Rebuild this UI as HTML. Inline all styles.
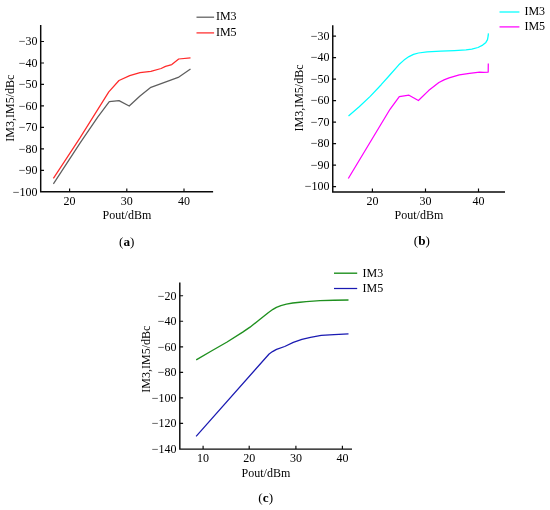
<!DOCTYPE html>
<html><head><meta charset="utf-8"><title>Figure</title>
<style>
html,body{margin:0;padding:0;background:#fff;}
svg{display:block;}
text{font-family:"Liberation Serif",serif;font-size:12px;fill:#000;}
</style></head>
<body>
<svg width="550" height="510" viewBox="0 0 550 510">
<rect width="550" height="510" fill="#fff"/>
<g>
<path d="M40.7 25.0V191.75H213.1" fill="none" stroke="#0a0a0a" stroke-width="1.45" stroke-linejoin="miter"/>
<text x="37.5" y="195.6" text-anchor="end">−100</text>
<text x="37.5" y="174.1" text-anchor="end">−90</text>
<text x="37.5" y="152.7" text-anchor="end">−80</text>
<text x="37.5" y="131.2" text-anchor="end">−70</text>
<text x="37.5" y="109.7" text-anchor="end">−60</text>
<text x="37.5" y="88.2" text-anchor="end">−50</text>
<text x="37.5" y="66.8" text-anchor="end">−40</text>
<text x="37.5" y="45.3" text-anchor="end">−30</text>
<text x="69.6" y="204.9" text-anchor="middle">20</text>
<text x="126.8" y="204.9" text-anchor="middle">30</text>
<text x="184.0" y="204.9" text-anchor="middle">40</text>
<path d="M40.7 170.3h3.3M40.7 148.8h3.3M40.7 127.4h3.3M40.7 105.9h3.3M40.7 84.4h3.3M40.7 63.0h3.3M40.7 41.5h3.3M69.6 191.75v-3.3M126.8 191.75v-3.3M184.0 191.75v-3.3" fill="none" stroke="#0a0a0a" stroke-width="1.15"/>
<polyline points="53.4,183.8 80.0,143.2 97.9,116.9 109.3,101.6 119.0,100.6 129.2,106.0 140.0,96.0 150.9,87.3 178.2,77.4 190.5,69.0" fill="none" stroke="#5e5e5e" stroke-width="1.25" stroke-linejoin="round"/>
<polyline points="53.4,178.3 80.0,137.9 108.8,91.9 119.0,80.5 129.7,75.6 140.0,72.6 150.9,71.3 161.1,68.5 165.5,66.4 171.8,64.6 178.7,59.0 190.5,57.8" fill="none" stroke="#ff2a2a" stroke-width="1.25" stroke-linejoin="round"/>
<text x="126.9" y="218.9" text-anchor="middle">Pout/dBm</text>
<text transform="translate(13.8 108.2) rotate(-90)" text-anchor="middle">IM3,IM5/dBc</text>
<text x="126.7" y="245.9" text-anchor="middle" style="font-size:13.2px">(<tspan font-weight="bold">a</tspan>)</text>
<path d="M196.5 17.2H214.1" stroke="#5e5e5e" stroke-width="1.25"/>
<path d="M196.5 32.9H214.1" stroke="#ff2a2a" stroke-width="1.25"/>
<text x="215.9" y="20.1">IM3</text>
<text x="215.9" y="35.5">IM5</text>
</g>
<g>
<path d="M332.75 25.2V191.9H505" fill="none" stroke="#0a0a0a" stroke-width="1.45" stroke-linejoin="miter"/>
<text x="329.6" y="190.4" text-anchor="end">−100</text>
<text x="329.6" y="168.9" text-anchor="end">−90</text>
<text x="329.6" y="147.4" text-anchor="end">−80</text>
<text x="329.6" y="125.9" text-anchor="end">−70</text>
<text x="329.6" y="104.4" text-anchor="end">−60</text>
<text x="329.6" y="82.9" text-anchor="end">−50</text>
<text x="329.6" y="61.4" text-anchor="end">−40</text>
<text x="329.6" y="39.9" text-anchor="end">−30</text>
<text x="372.4" y="204.7" text-anchor="middle">20</text>
<text x="425.5" y="204.7" text-anchor="middle">30</text>
<text x="478.5" y="204.7" text-anchor="middle">40</text>
<path d="M332.75 186.6h3.3M332.75 165.1h3.3M332.75 143.6h3.3M332.75 122.1h3.3M332.75 100.6h3.3M332.75 79.1h3.3M332.75 57.6h3.3M332.75 36.1h3.3M372.4 191.9v-3.3M425.5 191.9v-3.3M478.5 191.9v-3.3" fill="none" stroke="#0a0a0a" stroke-width="1.15"/>
<polyline points="348.5,116.0 359.2,106.7 370.2,96.4 381.2,84.7 389.4,75.5 398.8,64.8 404.0,60.1 409.0,56.6 413.5,54.4 418.5,53.0 427.1,51.9 440.9,51.2 454.5,50.6 466.0,49.9 471.8,49.2 478.0,47.5 482.7,45.1 485.9,42.4 487.5,39.6 488.2,35.7 488.4,33.4" fill="none" stroke="#00ffff" stroke-width="1.25" stroke-linejoin="round"/>
<polyline points="348.3,178.5 390.0,109.3 399.3,96.7 409.0,95.2 418.4,100.5 428.6,90.6 438.9,82.5 444.0,79.9 449.1,77.9 459.3,74.8 469.5,73.3 479.6,72.1 483.5,72.4 488.2,72.1 488.3,63.6" fill="none" stroke="#ff00ff" stroke-width="1.25" stroke-linejoin="round"/>
<text x="418.9" y="218.7" text-anchor="middle">Pout/dBm</text>
<text transform="translate(303.1 98.0) rotate(-90)" text-anchor="middle">IM3,IM5/dBc</text>
<text x="421.9" y="245.3" text-anchor="middle" style="font-size:13.2px">(<tspan font-weight="bold">b</tspan>)</text>
<path d="M499.5 12H519.4" stroke="#00ffff" stroke-width="1.25"/>
<path d="M499.5 26.9H519.4" stroke="#ff00ff" stroke-width="1.25"/>
<text x="524.4" y="15">IM3</text>
<text x="524.4" y="30">IM5</text>
</g>
<g>
<path d="M179.8 282.5V449.1H352" fill="none" stroke="#0a0a0a" stroke-width="1.45" stroke-linejoin="miter"/>
<text x="176.6" y="452.7" text-anchor="end">−140</text>
<text x="176.6" y="427.2" text-anchor="end">−120</text>
<text x="176.6" y="401.6" text-anchor="end">−100</text>
<text x="176.6" y="376.1" text-anchor="end">−80</text>
<text x="176.6" y="350.6" text-anchor="end">−60</text>
<text x="176.6" y="325.0" text-anchor="end">−40</text>
<text x="176.6" y="299.5" text-anchor="end">−20</text>
<text x="203.1" y="462.1" text-anchor="middle">10</text>
<text x="249.2" y="462.1" text-anchor="middle">20</text>
<text x="295.9" y="462.1" text-anchor="middle">30</text>
<text x="342.4" y="462.1" text-anchor="middle">40</text>
<path d="M179.8 423.4h3.3M179.8 397.8h3.3M179.8 372.3h3.3M179.8 346.8h3.3M179.8 321.2h3.3M179.8 295.7h3.3M203.1 449.1v-3.3M249.2 449.1v-3.3M295.9 449.1v-3.3M342.4 449.1v-3.3" fill="none" stroke="#0a0a0a" stroke-width="1.15"/>
<polyline points="196.2,359.9 211.4,351.0 227.1,342.0 242.7,332.2 250.0,327.2 259.1,320.0 268.2,312.7 273.0,309.3 276.4,307.3 280.9,305.6 286.4,304.1 292.7,303.0 300.0,302.2 306.2,301.6 320.0,300.6 334.0,300.3 348.5,300.0" fill="none" stroke="#1f901f" stroke-width="1.4" stroke-linejoin="round"/>
<polyline points="196.1,436.4 269.1,354.0 272.5,351.6 276.5,349.4 284.7,346.5 293.3,342.4 301.9,339.4 310.5,337.4 321.2,335.4 334.0,334.6 348.5,333.9" fill="none" stroke="#1a1ab2" stroke-width="1.25" stroke-linejoin="round"/>
<text x="265.9" y="476.9" text-anchor="middle">Pout/dBm</text>
<text transform="translate(150.3 359.2) rotate(-90)" text-anchor="middle">IM3,IM5/dBc</text>
<text x="265.7" y="502.4" text-anchor="middle" style="font-size:13.2px">(<tspan font-weight="bold">c</tspan>)</text>
<path d="M334 273.2H357.2" stroke="#1f901f" stroke-width="1.4"/>
<path d="M334 288.5H357.2" stroke="#1a1ab2" stroke-width="1.25"/>
<text x="362.6" y="276.8">IM3</text>
<text x="362.6" y="292.1">IM5</text>
</g>
</svg>
</body></html>
